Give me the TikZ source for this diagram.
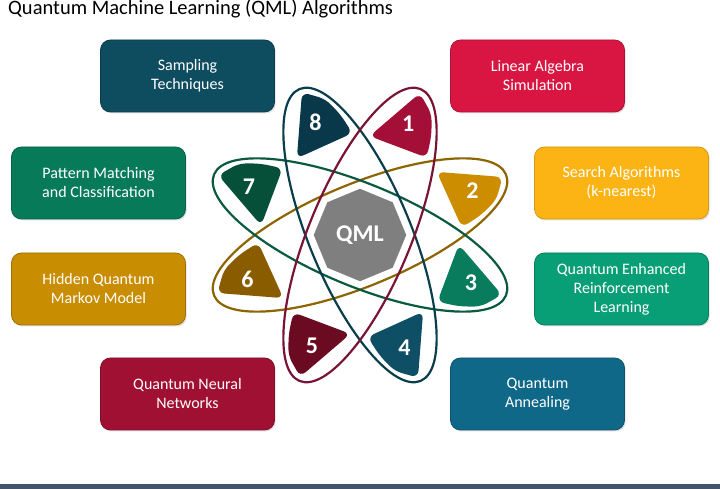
\documentclass[tikz,border=0pt]{standalone}
\usepackage{fontspec}
\setmainfont{Carlito}
\usepackage{tikz}
\usetikzlibrary{shapes.geometric,shadows}

\definecolor{barblue}{HTML}{44546A}
\definecolor{boxSamp}{HTML}{0E4C60}
\definecolor{boxLin}{HTML}{D81641}
\definecolor{boxPat}{HTML}{077A5A}
\definecolor{boxSearch}{HTML}{FCB414}
\definecolor{boxHid}{HTML}{C88D00}
\definecolor{boxReinf}{HTML}{089E76}
\definecolor{boxNeur}{HTML}{A01032}
\definecolor{boxAnn}{HTML}{106888}
\definecolor{pk1}{HTML}{A30F36}
\definecolor{pk2}{HTML}{CC8E00}
\definecolor{pk3}{HTML}{087C5C}
\definecolor{pk4}{HTML}{0E4F66}
\definecolor{pk5}{HTML}{6A0B22}
\definecolor{pk6}{HTML}{8A5C00}
\definecolor{pk7}{HTML}{06503A}
\definecolor{pk8}{HTML}{09384A}
\definecolor{orbGold}{HTML}{8C6400}
\definecolor{orbRed}{HTML}{7A1434}
\definecolor{orbTeal}{HTML}{0A3E4C}
\definecolor{orbGreen}{HTML}{0A5A42}
\definecolor{qmlgray}{HTML}{7F7F7F}

\begin{document}
\begin{tikzpicture}[x=1bp,y=1bp,
	algbox/.style={rounded corners=10bp,minimum width=174bp,minimum height=72bp,align=center,text=white,
		font=\fontsize{16bp}{19bp}\selectfont,line width=0.8bp,
		drop shadow={opacity=0.25,shadow xshift=1.2bp,shadow yshift=-1.5bp}},
	orbit/.style={line width=2.2bp},
	numtxt/.style={text=white,inner sep=0pt,font=\bfseries\fontsize{24bp}{24bp}\selectfont}]
	\useasboundingbox (0,0) rectangle (720,489);
	\fill[barblue] (0,0) rectangle (720,5);
	\node[anchor=base west,inner sep=0pt,font=\fontsize{20.5bp}{24bp}\selectfont] (title) at (8,474) {Quantum Machine Learning (QML) Algorithms};

	\node[algbox,fill=boxSamp,draw=boxSamp!80!black] (sampling) at (187.5,413) {Sampling\\Techniques};
	\node[algbox,fill=boxLin,draw=boxLin!80!black] (linalg) at (537.5,413) {Linear Algebra\\Simulation};
	\node[algbox,fill=boxPat,draw=boxPat!80!black] (pattern) at (98.5,306) {Pattern Matching\\and Classification};
	\node[algbox,fill=boxSearch,draw=boxSearch!85!black] (search) at (621.5,306) {Search Algorithms\\(k-nearest)};
	\node[algbox,fill=boxHid,draw=boxHid!80!black] (hidden) at (98.5,200) {Hidden Quantum\\Markov Model};
	\node[algbox,fill=boxReinf,draw=boxReinf!80!black] (reinf) at (621.5,200) {Quantum Enhanced\\Reinforcement\\Learning};
	\node[algbox,fill=boxNeur,draw=boxNeur!80!black] (neural) at (187.5,95) {Quantum Neural\\Networks};
	\node[algbox,fill=boxAnn,draw=boxAnn!80!black] (anneal) at (537.5,95) {Quantum\\Annealing};

	\begin{scope}[shift={(360,254)}]
		\foreach \e/\c in {22.5/orbGold,157.5/orbGreen,112.5/orbTeal,67.5/orbRed}
			\draw[orbit,\c,rotate=\e] (0,0) ellipse [x radius=158,y radius=51];
		\foreach \k in {1,...,8}{
			\fill[pk\k,rotate={112.5-45*\k},rounded corners=7bp] (95,29) -- (154,-1) -- (139,-20) -- (119,-28) -- (97,-32) -- cycle;
			\path[rotate={112.5-45*\k}] (121,-2) node[numtxt] (pick\k) {\k};
		}
		\node[regular polygon,regular polygon sides=8,shape border rotate=22.5,minimum size=96bp,inner sep=0pt,
			fill=qmlgray,draw=white,line width=3bp,text=white,font=\bfseries\fontsize{24bp}{24bp}\selectfont] (qml) at (0,0) {QML};
	\end{scope}
\end{tikzpicture}
\end{document}
